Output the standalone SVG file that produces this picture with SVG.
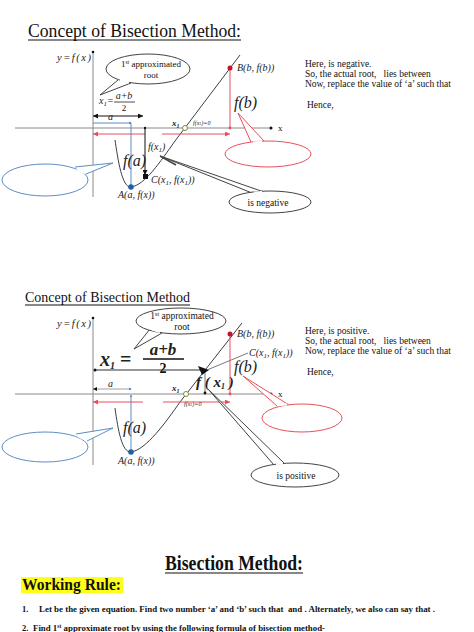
<svg xmlns="http://www.w3.org/2000/svg" width="474" height="632" viewBox="0 0 474 632">
<defs>
<style>
.t{font-family:"Liberation Serif","Times New Roman",serif;fill:#111}
.i{font-family:"Liberation Serif","Times New Roman",serif;font-style:italic;fill:#222}
.ax{stroke:#8a8a8a;stroke-width:1;fill:none}
.crv{stroke:#3a3f4a;stroke-width:1;fill:none}
.red{stroke:#e8505a;stroke-width:1;fill:none}
.blu{stroke:#5b8ec4;stroke-width:1;fill:none}
.blk{stroke:#111;stroke-width:1;fill:none}
.bub{fill:#fff;stroke:#444;stroke-width:1}
.rbub{fill:#fff;stroke:#e8505a;stroke-width:1}
.bbub{fill:#fff;stroke:#5b8ec4;stroke-width:1}
</style>
<marker id="ak" viewBox="0 0 6 6" refX="6" refY="3" markerWidth="5" markerHeight="5" orient="auto-start-reverse"><path d="M0,0L6,3L0,6z" fill="#111"/></marker>
<marker id="ar" viewBox="0 0 6 6" refX="6" refY="3" markerWidth="5" markerHeight="5" orient="auto-start-reverse"><path d="M0,0L6,3L0,6z" fill="#e8505a"/></marker>
</defs>
<rect width="474" height="632" fill="#fff"/>

<!-- ===== Diagram 1 ===== -->
<g id="title1">
<text class="t" x="28" y="37" font-size="19" textLength="213" lengthAdjust="spacingAndGlyphs">Concept of Bisection Method:</text>
<line x1="28" y1="40" x2="241" y2="40" stroke="#111" stroke-width="1"/>
</g>
<g id="connectors1">
<line class="ax" x1="93" y1="52" x2="93" y2="197"/>
<circle cx="93" cy="52" r="1.3" fill="#111"/>
<line class="ax" x1="15" y1="128" x2="270" y2="128"/>
<circle cx="271" cy="128" r="1.5" fill="#111"/>
<path class="crv" d="M240,55 L175,141 C160,162 145,185 131,187 C122,188 118,160 115,140"/>
<line class="blk" x1="93" y1="116" x2="143" y2="116" marker-start="url(#ak)" marker-end="url(#ak)"/>
<line class="blu" x1="93" y1="123" x2="130" y2="123"/>
<circle cx="130" cy="123" r="1.2" fill="#5b8ec4"/>
<line class="blu" x1="131" y1="123" x2="131" y2="187"/>
<line class="red" x1="93" y1="134" x2="145" y2="134" marker-start="url(#ar)"/>
<line class="red" x1="162" y1="134" x2="230" y2="134" marker-end="url(#ar)"/>
<line class="red" x1="230" y1="68" x2="230" y2="128"/>
<circle cx="230" cy="128" r="1.4" fill="#e8505a"/>
<line class="blk" x1="145" y1="128" x2="145" y2="175" marker-end="url(#ak)"/>
<circle cx="145" cy="128" r="1.2" fill="#111"/>
</g>
<g id="bubble1">
<path class="bub" d="M118,80 L100,95 L131,83"/>
<ellipse class="bub" cx="148" cy="69" rx="42" ry="15"/>
<path d="M120,80 L129,82.5" stroke="#fff" stroke-width="2.2"/>
<text class="t" x="151" y="67" font-size="9" text-anchor="middle">1<tspan font-size="5.5" dy="-3">st</tspan><tspan dy="3"> approximated</tspan></text>
<text class="t" x="151" y="78" font-size="9" text-anchor="middle">root</text>
</g>
<g id="formula1">
<text class="i" x="99" y="104" font-size="10">x<tspan font-size="7" dy="2">1</tspan><tspan dy="-2">=</tspan></text>
<text class="i" x="124" y="99" font-size="10" text-anchor="middle">a+b</text>
<line x1="114" y1="102" x2="135" y2="102" stroke="#222" stroke-width="0.8"/>
<text class="t" x="124" y="111" font-size="9" text-anchor="middle">2</text>
</g>
<g id="labels1">
<text class="i" x="57" y="61" font-size="10.5" textLength="34" lengthAdjust="spacing">y=f(x)</text>
<text class="i" x="108" y="120" font-size="10">a</text>
<text class="t" x="278" y="131" font-size="9">x</text>
<circle cx="230" cy="68" r="2.5" fill="#c8102e"/>
<text class="i" x="237" y="71" font-size="10">B(b, f(b))</text>
<text class="i" x="234" y="108" font-size="16">f(b)</text>
<circle cx="185" cy="128" r="2.5" fill="#fff" stroke="#8a8a30" stroke-width="1"/>
<text class="i" x="172" y="126" font-size="9" font-weight="bold">x<tspan font-size="6" dy="2">1</tspan></text>
<text class="i" x="193" y="125" font-size="6">f(x<tspan font-size="4">1</tspan>)=0</text>
<text class="i" x="148" y="150" font-size="10">f(x<tspan font-size="7" dy="2">1</tspan><tspan dy="-2">)</tspan></text>
<rect x="143" y="174" width="5" height="5" fill="#111"/>
<text class="i" x="151" y="183" font-size="10">C(x<tspan font-size="7" dy="2">1</tspan><tspan dy="-2">, f(x</tspan><tspan font-size="7" dy="2">1</tspan><tspan dy="-2">))</tspan></text>
<text class="i" x="123" y="166" font-size="16">f(a)</text>
<circle cx="131" cy="187" r="2.8" fill="#1f5fa8"/>
<text class="i" x="118" y="198" font-size="10">A(a, f(x))</text>
</g>
<g id="redbubble1">
<path class="rbub" d="M251,142 L238,113 L264,141"/>
<ellipse class="rbub" cx="268" cy="154" rx="43" ry="13"/>
<path d="M253,142.5 L262,141.5" stroke="#fff" stroke-width="2"/>
</g>
<g id="bluebubble1">
<path class="bbub" d="M75,167 L113,163 L86,174"/>
<ellipse class="bbub" cx="45" cy="180" rx="43" ry="16"/>
<path d="M77,169 L85,173" stroke="#fff" stroke-width="2"/>
</g>
<g id="negbubble1">
<path class="bub" d="M252,193 L160,156 L264,192"/>
<line x1="160" y1="156" x2="176" y2="165" stroke="#444" stroke-width="1.5"/>
<ellipse class="bub" cx="270" cy="202" rx="41" ry="11"/>
<path d="M254,192.5 L262,192" stroke="#fff" stroke-width="2"/>
<text class="t" x="268" y="206" font-size="9.5" text-anchor="middle">is negative</text>
</g>
<g id="text1">
<text class="t" x="305" y="67" font-size="9.5">Here,  is negative.</text>
<text class="t" x="305" y="77" font-size="9.5" xml:space="preserve">So, the actual root,   lies between</text>
<text class="t" x="305" y="87" font-size="9.5">Now, replace the value of ‘a’ such that</text>
<text class="t" x="307" y="108" font-size="9.5">Hence,</text>
</g>

<!-- ===== Diagram 2 ===== -->
<g id="title2">
<text class="t" x="25" y="302" font-size="15" textLength="165" lengthAdjust="spacingAndGlyphs">Concept of Bisection Method</text>
<line x1="25" y1="305" x2="190" y2="305" stroke="#111" stroke-width="1"/>
</g>
<g id="connectors2">
<line class="ax" x1="93" y1="318" x2="93" y2="465"/>
<circle cx="93" cy="318" r="1.3" fill="#111"/>
<line class="ax" x1="15" y1="394" x2="270" y2="394"/>
<circle cx="271" cy="394" r="1.5" fill="#111"/>
<path class="crv" d="M242,323 L180,402 C166,422 146,450 131,452 C122,453 118,430 115,408"/>
<line x1="95" y1="370" x2="200" y2="370" stroke="#333" stroke-width="1.2"/>
<circle cx="95" cy="370" r="1.5" fill="#111"/>
<path d="M198,366 L209,370 L202,375 Z" fill="#111"/>
<line x1="205" y1="373" x2="205" y2="393" stroke="#555" stroke-width="0.8"/>
<circle cx="205" cy="393" r="1.4" fill="#111"/>
<line x1="207" y1="370" x2="248" y2="353" stroke="#555" stroke-width="0.8"/>
<line x1="93" y1="389" x2="130" y2="389" stroke="#888" stroke-width="0.8" marker-start="url(#ak)"/>
<circle cx="130" cy="389" r="1.2" fill="#5b8ec4"/>
<line class="blu" x1="131" y1="396" x2="131" y2="452"/>
<circle cx="131" cy="396" r="1.1" fill="#5b8ec4"/>
<line class="red" x1="93" y1="402" x2="143" y2="402" marker-start="url(#ar)"/>
<line class="red" x1="163" y1="402" x2="230" y2="402" marker-end="url(#ar)"/>
<line class="red" x1="230" y1="334" x2="230" y2="394"/>
<circle cx="230" cy="394" r="1.4" fill="#e8505a"/>
</g>
<g id="bubble2">
<path class="bub" d="M150,329 L134,349 L162,333"/>
<ellipse class="bub" cx="181" cy="321" rx="45" ry="13"/>
<path d="M152,329.5 L160,332" stroke="#fff" stroke-width="2"/>
<text class="t" x="182" y="319" font-size="9.5" text-anchor="middle">1<tspan font-size="6" dy="-3">st</tspan><tspan dy="3"> approximated</tspan></text>
<text class="t" x="182" y="330" font-size="9.5" text-anchor="middle">root</text>
</g>
<g id="formula2">
<text class="i" x="100" y="366" font-size="20" font-weight="bold">x<tspan font-size="10" dy="3">1</tspan><tspan dy="-3" font-style="normal"> =</tspan></text>
<text class="i" x="163" y="355" font-size="17" font-weight="bold" text-anchor="middle">a+b</text>
<line x1="143" y1="359" x2="184" y2="359" stroke="#111" stroke-width="1.5"/>
<text class="t" x="163" y="373" font-size="14" font-weight="bold" text-anchor="middle">2</text>
</g>
<g id="labels2">
<text class="i" x="57" y="327" font-size="10.5" textLength="34" lengthAdjust="spacing">y=f(x)</text>
<text class="i" x="108" y="387" font-size="10">a</text>
<text class="t" x="278" y="397" font-size="9">x</text>
<circle cx="230" cy="334" r="2.5" fill="#c8102e"/>
<text class="i" x="237" y="337" font-size="10">B(b, f(b))</text>
<text class="i" x="249" y="356" font-size="10">C(x<tspan font-size="7" dy="2">1</tspan><tspan dy="-2">, f(x</tspan><tspan font-size="7" dy="2">1</tspan><tspan dy="-2">))</tspan></text>
<text class="i" x="234" y="372" font-size="16">f(b)</text>
<text class="i" x="196" y="387" font-size="15" font-weight="bold" xml:space="preserve">f ( x<tspan font-size="8" dy="2">1</tspan><tspan dy="-2"> )</tspan></text>
<circle cx="186" cy="394" r="2.5" fill="#fff" stroke="#8a8a30" stroke-width="1"/>
<text class="i" x="172" y="391" font-size="9" font-weight="bold">x<tspan font-size="6" dy="2">1</tspan></text>
<text class="i" x="184" y="406" font-size="6">f(x<tspan font-size="4">1</tspan>)=0</text>
<text class="i" x="123" y="433" font-size="16">f(a)</text>
<circle cx="131" cy="452" r="2.8" fill="#1f5fa8"/>
<text class="i" x="118" y="464" font-size="10">A(a, f(x))</text>
</g>
<g id="redbubble2">
<path class="rbub" d="M277,406 L243,376 L289,405"/>
<ellipse class="rbub" cx="302" cy="418" rx="40" ry="14"/>
<path d="M279,405 L287,404.5" stroke="#fff" stroke-width="2"/>
</g>
<g id="bluebubble2">
<path class="bbub" d="M76,434 L113,428 L87,441"/>
<ellipse class="bbub" cx="45" cy="447" rx="43" ry="15"/>
<path d="M78,436 L86,440" stroke="#fff" stroke-width="2"/>
</g>
<g id="posbubble2">
<path class="bub" d="M274,465 L208,389 L285,464"/>
<ellipse class="bub" cx="295" cy="475" rx="44" ry="12"/>
<path d="M276,464 L283,463.5" stroke="#fff" stroke-width="2"/>
<text class="t" x="296" y="479" font-size="9.5" text-anchor="middle">is positive</text>
</g>
<g id="text2">
<text class="t" x="305" y="334" font-size="9.5">Here,  is positive.</text>
<text class="t" x="305" y="344" font-size="9.5" xml:space="preserve">So, the actual root,   lies between</text>
<text class="t" x="305" y="354" font-size="9.5">Now, replace the value of ‘a’ such that</text>
<text class="t" x="307" y="375" font-size="9.5">Hence,</text>
</g>

<!-- ===== Bottom ===== -->
<g id="bottom">
<text class="t" x="165" y="570" font-size="21" font-weight="bold" textLength="138" lengthAdjust="spacingAndGlyphs">Bisection Method:</text>
<line x1="165" y1="573" x2="303" y2="573" stroke="#111" stroke-width="1.2"/>
<rect x="21" y="577" width="102" height="16" fill="#ffff1a"/>
<text class="t" x="22" y="590" font-size="17" font-weight="bold" textLength="99" lengthAdjust="spacingAndGlyphs">Working Rule:</text>
<text class="t" x="22" y="612" font-size="8.5" font-weight="bold">1.</text>
<text class="t" x="39" y="612" font-size="8.5" font-weight="bold" textLength="396" lengthAdjust="spacingAndGlyphs" xml:space="preserve">Let be the given equation. Find two number ‘a’ and ‘b’ such that  and . Alternately, we also can say that .</text>
<text class="t" x="22" y="631" font-size="8.5" font-weight="bold">2.</text>
<text class="t" x="33" y="631" font-size="8.5" font-weight="bold" textLength="292" lengthAdjust="spacingAndGlyphs">Find 1<tspan font-size="5.5" dy="-3">st</tspan><tspan dy="3"> approximate root by using the following formula of bisection method-</tspan></text>
</g>
</svg>
